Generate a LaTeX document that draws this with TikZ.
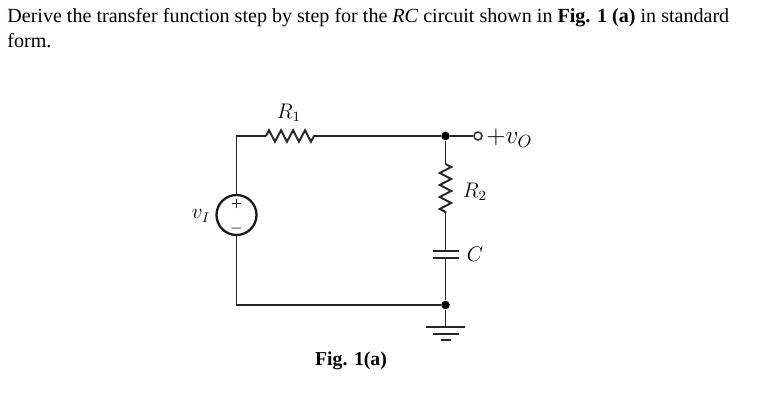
\documentclass[tikz,border=0pt]{standalone}
\usepackage{fontspec}
\setmainfont{Liberation Serif}
\usetikzlibrary{decorations.pathmorphing}
\tikzset{
  wire/.style={draw=black!85,line width=1.1pt},
  dot/.style={circle,fill=black,inner sep=0pt,minimum size=0.17cm},
  port/.style={circle,draw=black!80,fill=white,line width=0.9pt,inner sep=0pt,minimum size=0.16cm},
  res/.style={wire,decorate,decoration={zigzag,segment length=0.24cm,amplitude=0.115cm}},
  txt/.style={anchor=base west,inner sep=0pt,font=\fontsize{11.42pt}{12pt}\selectfont},
  lbl/.style={inner sep=0pt,font=\fontsize{12pt}{13pt}\selectfont}
}
\begin{document}
\begin{tikzpicture}
\useasboundingbox (0,0) rectangle (15.34,8.06);
\node[txt] (line1) at (0.14,7.6) {Derive the transfer function step by step for the \textit{RC} circuit shown in \textbf{Fig. 1 (a)} in standard};
\node[txt] (line2) at (0.14,7.1) {form.};
\node[circle,draw=black!90,line width=1.3pt,minimum size=0.8cm,inner sep=0pt] (v) at (4.73,3.76) {};
\node[lbl,font=\fontsize{11pt}{12pt}\selectfont] (plus) at (4.73,3.95) {+};
\node[lbl,font=\fontsize{9pt}{10pt}\selectfont] (minus) at (4.73,3.49) {$-$};
\coordinate (tl) at (4.73,5.34);
\coordinate (bl) at (4.73,1.96);
\coordinate (r1a) at (5.32,5.34);
\coordinate (r1b) at (6.32,5.34);
\node[dot] (top) at (8.91,5.34) {};
\node[port] (out) at (9.56,5.34) {};
\coordinate (r2a) at (8.91,4.78);
\coordinate (r2b) at (8.91,3.8);
\coordinate (c1) at (8.91,3.04);
\coordinate (c2) at (8.91,2.9);
\node[dot] (bot) at (8.91,1.96) {};
\coordinate (g1) at (8.91,1.52);
\coordinate (g2) at (8.91,1.38);
\coordinate (g3) at (8.91,1.26);
% wires
\draw[wire] (v) -- (tl) -- (r1a);
\draw[res] (r1a) -- (r1b);
\draw[wire] (r1b) -- (top);
\draw[wire] (top) -- (out);
\draw[wire] (top) -- (r2a);
\draw[res] (r2a) -- (r2b);
\draw[wire] (r2b) -- (c1);
\draw[wire] (c2) -- (bot);
\draw[wire] (v) -- (bl) -- (bot);
\draw[wire] (bot) -- (g1);
% capacitor plates
\draw[wire,line width=1.3pt] ([xshift=-0.26cm]c1) -- ([xshift=0.26cm]c1);
\draw[wire,line width=1.3pt] ([xshift=-0.26cm]c2) -- ([xshift=0.26cm]c2);
% ground
\draw[wire,line width=1.3pt] ([xshift=-0.39cm]g1) -- ([xshift=0.39cm]g1);
\draw[wire,line width=1.3pt] ([xshift=-0.26cm]g2) -- ([xshift=0.26cm]g2);
\draw[wire,line width=1.3pt] ([xshift=-0.1cm]g3) -- ([xshift=0.1cm]g3);
% labels
\node[lbl] (lr1) at (5.78,5.8) {$R_1$};
\node[lbl] (lr2) at (9.5,4.23) {$R_2$};
\node[lbl] (lc) at (9.5,2.97) {$C$};
\node[lbl] (lvi) at (4.02,3.74) {$v_I$};
\node[lbl,anchor=west,font=\fontsize{14pt}{15pt}\selectfont] (lvo) at (9.72,5.3) {$+v_O$};
\node[lbl,font=\bfseries\fontsize{11.2pt}{12pt}\selectfont] (cap) at (7.02,0.84) {Fig. 1(a)};
\end{tikzpicture}
\end{document}
